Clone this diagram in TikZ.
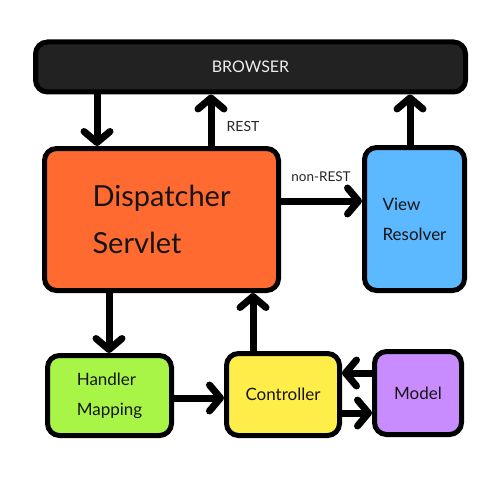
\documentclass[tikz,border=0pt]{standalone}
\usepackage{fontspec}
\setmainfont{Lato}
\usetikzlibrary{arrows.meta}
\definecolor{brow}{HTML}{222222}
\definecolor{orng}{HTML}{FF6A30}
\definecolor{blu}{HTML}{5CB8FF}
\definecolor{lime}{HTML}{A8F548}
\definecolor{yel}{HTML}{FFEE4A}
\definecolor{purp}{HTML}{C88CFF}
\definecolor{txt}{HTML}{151515}
\begin{document}
\begin{tikzpicture}[x=1pt,y=-1pt,
  box/.style={draw=black, line width=5pt, rounded corners=12pt, align=left, text=txt, inner sep=0pt},
  arr/.style={line width=7pt, -{Straight Barb[length=11pt,width=26pt,round]}},
  lbl/.style={font=\fontsize{13.5}{16}\selectfont, text=black!85, inner sep=0pt}]
\fill[white] (0,0) rectangle (500,500);
\useasboundingbox (0,0) rectangle (500,500);
\node[box, fill=brow, minimum width=430pt, minimum height=50pt, text=white!93!black, font=\fontsize{16}{18}\selectfont] (browser) at (250.5,67) {BROWSER};
\node[box, fill=orng, minimum width=234pt, minimum height=142pt, font=\fontsize{29}{47}\selectfont] (disp) at (161.5,219.5) {Dispatcher\\Servlet};
\node[box, fill=blu, minimum width=100pt, minimum height=143pt, font=\fontsize{17}{30}\selectfont] (view) at (414.5,219) {View\\Resolver};
\node[box, fill=lime, minimum width=124pt, minimum height=80pt, font=\fontsize{17}{30}\selectfont] (handler) at (109.5,395.5) {Handler\\Mapping};
\node[box, fill=yel, minimum width=113pt, minimum height=82pt, font=\fontsize{17}{30}\selectfont] (ctrl) at (283,394.5) {Controller};
\node[box, fill=purp, minimum width=87pt, minimum height=83pt, font=\fontsize{17}{30}\selectfont] (model) at (418,393) {Model};
\coordinate (c1) at (97,0);
\coordinate (c2) at (211,0);
\coordinate (c3) at (410,0);
\coordinate (c4) at (0,201);
\coordinate (c5) at (109,0);
\coordinate (c6) at (253,0);
\coordinate (c7) at (0,398);
\coordinate (c8) at (0,373);
\coordinate (c9) at (0,413);
\draw[arr] (browser.south -| c1) -- (disp.north -| c1);
\draw[arr] (disp.north -| c2) -- (browser.south -| c2);
\draw[arr] (view.north -| c3) -- (browser.south -| c3);
\draw[arr] (disp.east |- c4) -- (view.west |- c4);
\draw[arr] (disp.south -| c5) -- (handler.north -| c5);
\draw[arr] (ctrl.north -| c6) -- (disp.south -| c6);
\draw[arr] (handler.east |- c7) -- (ctrl.west |- c7);
\draw[arr] (model.west |- c8) -- (ctrl.east |- c8);
\draw[arr] (ctrl.east |- c9) -- (model.west |- c9);
\node[lbl, font=\fontsize{14}{16}\selectfont] (rest) at (243,126) {REST};
\node[lbl] (nonrest) at (321,177) {non-REST};
\end{tikzpicture}
\end{document}
